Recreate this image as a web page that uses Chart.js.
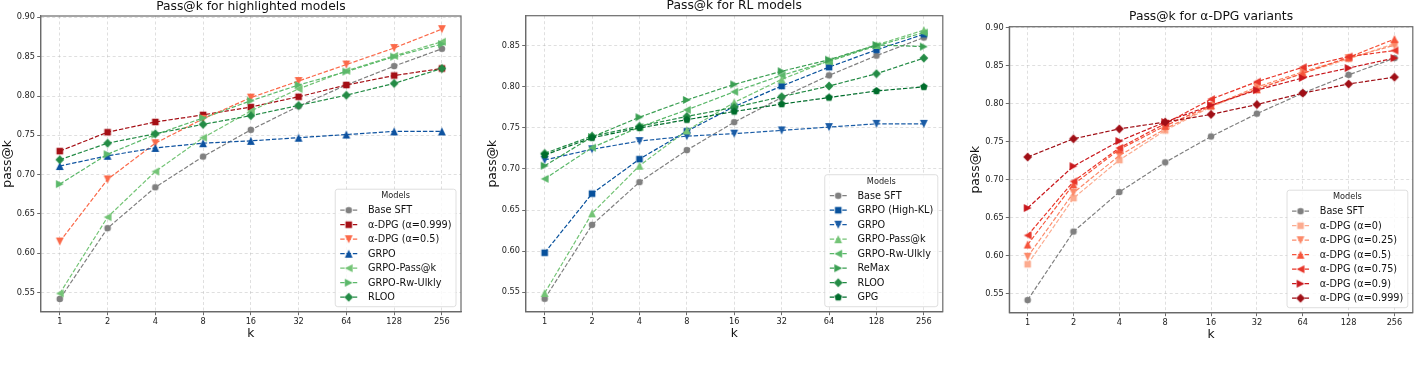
<!DOCTYPE html>
<html>
<head>
<meta charset="utf-8">
<script src="https://cdn.jsdelivr.net/npm/chart.js@4.4.1/dist/chart.umd.min.js"></script>
<style>
  html, body { margin: 0; padding: 0; background: #fff; }
  body { width: 1418px; height: 379px; position: relative; overflow: hidden; }
  .panel { position: absolute; top: 0; height: 379px; }
</style>
</head>
<body>
<div class="panel" style="left:0;width:470px"><canvas id="c1" width="470" height="379"></canvas></div>
<div class="panel" style="left:470px;width:478px"><canvas id="c2" width="478" height="379"></canvas></div>
<div class="panel" style="left:948px;width:470px"><canvas id="c3" width="470" height="379"></canvas></div>
<script>
const kLabels = ['1', '2', '4', '8', '16', '32', '64', '128', '256']

// pass@k per k
const baseSFT     = [0.542, 0.632, 0.684, 0.723, 0.757, 0.787, 0.814, 0.838, 0.860]
const dpg0        = [0.589, 0.676, 0.726, 0.765, 0.796, 0.820, 0.840, 0.859, 0.879]
const dpg025      = [0.599, 0.683, 0.732, 0.767, 0.797, 0.822, 0.842, 0.860, 0.877]
const dpg05       = [0.615, 0.694, 0.740, 0.771, 0.798, 0.819, 0.840, 0.861, 0.885]
const dpg075      = [0.627, 0.698, 0.742, 0.774, 0.806, 0.829, 0.848, 0.862, 0.870]
const dpg09       = [0.663, 0.718, 0.751, 0.776, 0.798, 0.818, 0.834, 0.847, 0.860]
const dpg0999     = [0.730, 0.754, 0.767, 0.776, 0.786, 0.799, 0.814, 0.826, 0.835]
const grpo        = [0.711, 0.724, 0.734, 0.740, 0.743, 0.747, 0.751, 0.755, 0.755]
const grpoHighKL  = [0.598, 0.670, 0.712, 0.746, 0.776, 0.801, 0.824, 0.845, 0.864]
const grpoPassK   = [0.549, 0.646, 0.704, 0.747, 0.781, 0.809, 0.832, 0.851, 0.869]
const grpoRwUlkly = [0.688, 0.726, 0.751, 0.772, 0.794, 0.814, 0.831, 0.850, 0.866]
const reMax       = [0.704, 0.739, 0.763, 0.784, 0.803, 0.819, 0.833, 0.851, 0.849]
const rloo        = [0.719, 0.740, 0.752, 0.764, 0.775, 0.788, 0.801, 0.816, 0.835]
const gpg         = [0.717, 0.738, 0.750, 0.760, 0.770, 0.779, 0.787, 0.795, 0.800]

const FONT = 'DejaVu Sans'

// matplotlib-like markers drawn on a small canvas
function marker(shape, color) {
  const s = 12
  const c = document.createElement('canvas')
  c.width = s
  c.height = s
  const g = c.getContext('2d')
  g.fillStyle = color
  g.translate(s / 2, s / 2)
  g.beginPath()
  if (shape === 'o') {
    g.arc(0, 0, 3.3, 0, Math.PI * 2)
  } else if (shape === 's') {
    g.rect(-3.3, -3.3, 6.6, 6.6)
  } else if (shape === 'D') {
    g.moveTo(0, -4.4); g.lineTo(4.4, 0); g.lineTo(0, 4.4); g.lineTo(-4.4, 0)
  } else if (shape === 'p') {
    for (let i = 0; i < 5; i++) {
      const a = -Math.PI / 2 + i * 2 * Math.PI / 5
      g.lineTo(4 * Math.cos(a), 4 * Math.sin(a))
    }
  } else {
    const rot = { '^': 0, 'v': Math.PI, '<': -Math.PI / 2, '>': Math.PI / 2 }[shape]
    g.rotate(rot)
    g.moveTo(0, -3.9); g.lineTo(3.9, 3.9); g.lineTo(-3.9, 3.9)
  }
  g.closePath()
  g.fill()
  return c
}

function series(label, values, color, shape, i) {
  const m = marker(shape, color)
  return {
    label: label,
    data: values.map((v, j) => ({ x: j, y: v })),
    borderColor: color,
    backgroundColor: color,
    borderWidth: 1.2,
    borderDash: [4.4, 1.9],
    pointStyle: m,
    pointRadius: 4,
    pointHoverRadius: 4,
    marker: m,
    order: -i
  }
}

function panelPlugin(title) {
  return {
    id: 'panel',
    afterDatasetsDraw(chart) {
      const { ctx, chartArea: a } = chart
      ctx.save()
      ctx.strokeStyle = '#6a6a6a'
      ctx.lineWidth = 1.2
      ctx.strokeRect(a.left, a.top, a.right - a.left, a.bottom - a.top)
      ctx.restore()
    },
    afterDraw(chart) {
      const { ctx, chartArea: a } = chart
      const cx = (a.left + a.right) / 2
      ctx.save()
      ctx.fillStyle = '#111'
      ctx.textAlign = 'center'
      ctx.textBaseline = 'middle'
      ctx.font = '12.3px "' + FONT + '"'
      ctx.fillText(title, cx, a.top - 9.5)
      ctx.fillText('k', cx, a.bottom + 22.3)
      ctx.save()
      ctx.translate(a.left - 33, (a.top + a.bottom) / 2)
      ctx.rotate(-Math.PI / 2)
      ctx.fillText('pass@k', 0, 0)
      ctx.restore()

      // legend, lower right
      const sets = chart.data.datasets
      ctx.font = '9.7px "' + FONT + '"'
      const tw = Math.max(...sets.map(d => ctx.measureText(d.label).width))
      const w = 5 + 17 + 10.7 + tw + 4.5
      const right = a.right - 5
      const bottom = a.bottom - 5
      const last = bottom - 9.5
      const first = last - (sets.length - 1) * 14.5
      const top = first - 21
      const left = right - w
      ctx.beginPath()
      if (ctx.roundRect) ctx.roundRect(left, top, w, bottom - top, 2.5)
      else ctx.rect(left, top, w, bottom - top)
      ctx.fillStyle = 'rgba(255,255,255,0.8)'
      ctx.fill()
      ctx.strokeStyle = 'rgba(204,204,204,0.8)'
      ctx.lineWidth = 0.8
      ctx.stroke()

      ctx.fillStyle = '#222'
      ctx.font = '8.2px "' + FONT + '"'
      ctx.fillText('Models', (left + right) / 2, first - 14)

      ctx.font = '9.7px "' + FONT + '"'
      ctx.textAlign = 'left'
      sets.forEach((d, i) => {
        const y = first + i * 14.5
        const x0 = left + 5
        ctx.save()
        ctx.strokeStyle = d.borderColor
        ctx.lineWidth = 1.2
        ctx.setLineDash([4.4, 1.9])
        ctx.beginPath()
        ctx.moveTo(x0, y)
        ctx.lineTo(x0 + 17, y)
        ctx.stroke()
        ctx.restore()
        ctx.drawImage(d.marker, x0 + 8.5 - d.marker.width / 2, y - d.marker.height / 2)
        ctx.fillStyle = '#111'
        ctx.fillText(d.label, x0 + 27.7, y + 0.5)
      })
      ctx.restore()
    }
  }
}

function makeChart(id, title, datasets, yMin, yMax, yW, pad) {
  const yTicks = []
  for (let v = 0.55; v <= yMax + 1e-9; v += 0.05) yTicks.push(Math.round(v * 100) / 100)
  return new Chart(document.getElementById(id), {
    type: 'line',
    plugins: [panelPlugin(title)],
    data: { datasets: datasets },
    options: {
      responsive: false,
      animation: false,
      events: [],
      layout: { padding: pad },
      plugins: { legend: { display: false }, title: { display: false }, tooltip: { enabled: false } },
      scales: {
        x: {
          type: 'linear',
          min: -0.4,
          max: 8.4,
          afterBuildTicks: s => { s.ticks = kLabels.map((_, i) => ({ value: i })) },
          afterFit: s => { s.height = 40 },
          ticks: {
            callback: v => kLabels[v],
            font: { family: FONT, size: 8.2 },
            color: '#222',
            padding: 2,
            maxRotation: 0
          },
          grid: { color: 'rgba(176,176,176,0.5)', lineWidth: 0.8, tickColor: '#444', tickLength: 3.5, tickWidth: 0.8, tickBorderDash: [] },
          border: { display: true, color: '#6a6a6a', width: 1.2, dash: [3, 2.5] }
        },
        y: {
          min: yMin,
          max: yMax,
          afterBuildTicks: s => { s.ticks = yTicks.map(v => ({ value: v })) },
          afterFit: s => { s.width = yW },
          ticks: {
            callback: v => v.toFixed(2),
            font: { family: FONT, size: 8.2 },
            color: '#222',
            padding: 2.2
          },
          grid: { color: 'rgba(176,176,176,0.5)', lineWidth: 0.8, tickColor: '#444', tickLength: 3.5, tickWidth: 0.8, tickBorderDash: [] },
          border: { display: true, color: '#6a6a6a', width: 1.2, dash: [3, 2.5] }
        }
      }
    }
  })
}

makeChart('c1', 'Pass@k for highlighted models', [
  series('Base SFT', baseSFT, '#808080', 'o', 0),
  series('α-DPG (α=0.999)', dpg0999, '#a50f15', 's', 1),
  series('α-DPG (α=0.5)', dpg05, '#fb6a4a', 'v', 2),
  series('GRPO', grpo, '#0d52a0', '^', 3),
  series('GRPO-Pass@k', grpoPassK, '#74c476', '<', 4),
  series('GRPO-Rw-Ulkly', grpoRwUlkly, '#5bb86a', '>', 5),
  series('RLOO', rloo, '#238b45', 'D', 6)
], 0.5258, 0.9017, 40.7, { left: 0, right: 9, top: 16, bottom: 27.3 })

makeChart('c2', 'Pass@k for RL models', [
  series('Base SFT', baseSFT, '#808080', 'o', 0),
  series('GRPO (High-KL)', grpoHighKL, '#08519c', 's', 1),
  series('GRPO', grpo, '#1a5ca6', 'v', 2),
  series('GRPO-Pass@k', grpoPassK, '#74c476', '^', 3),
  series('GRPO-Rw-Ulkly', grpoRwUlkly, '#5bb86a', '<', 4),
  series('ReMax', reMax, '#3a9f52', '>', 5),
  series('RLOO', rloo, '#238b45', 'D', 6),
  series('GPG', gpg, '#006d2c', 'p', 7)
], 0.5263, 0.8866, 55.7, { left: 0, right: 2.2, top: 15.7, bottom: 27.3 })

makeChart('c3', 'Pass@k for α-DPG variants', [
  series('Base SFT', baseSFT, '#808080', 'o', 0),
  series('α-DPG (α=0)', dpg0, '#fcab8f', 's', 1),
  series('α-DPG (α=0.25)', dpg025, '#fc8a6a', 'v', 2),
  series('α-DPG (α=0.5)', dpg05, '#f6553c', '^', 3),
  series('α-DPG (α=0.75)', dpg075, '#e8362a', '<', 4),
  series('α-DPG (α=0.9)', dpg09, '#c9181d', '>', 5),
  series('α-DPG (α=0.999)', dpg0999, '#a00f16', 'D', 6)
], 0.5254, 0.9013, 61.3, { left: 0, right: 1.3, top: 26.7, bottom: 26.3 })
</script>
</body>
</html>
